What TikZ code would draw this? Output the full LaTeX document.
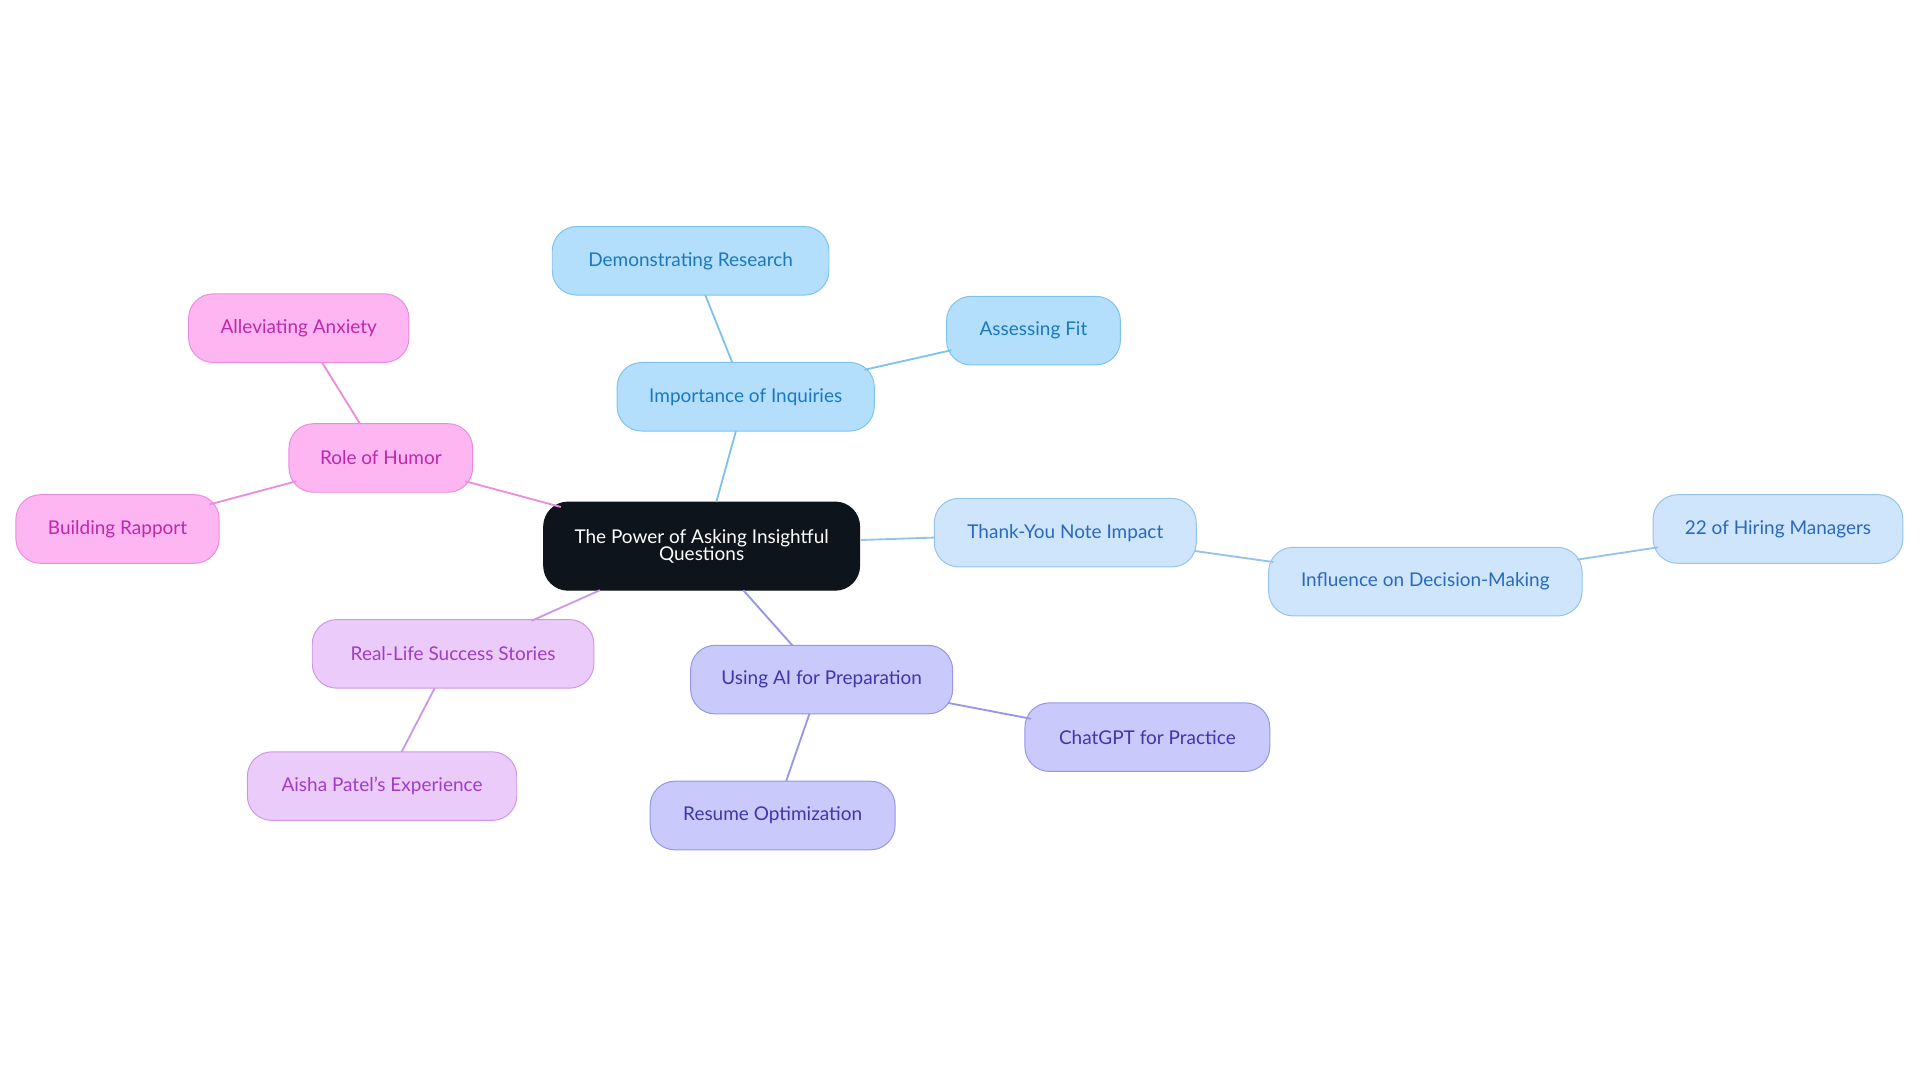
\documentclass[tikz,border=0pt]{standalone}
\usepackage{fontspec}
\setmainfont{Lato}
\definecolor{bF}{RGB}{179,223,253}\definecolor{bD}{RGB}{125,195,235}\definecolor{bT}{RGB}{27,120,190}
\definecolor{lF}{RGB}{207,229,252}\definecolor{lD}{RGB}{150,195,235}\definecolor{lT}{RGB}{40,105,190}
\definecolor{pF}{RGB}{201,201,252}\definecolor{pD}{RGB}{150,150,230}\definecolor{pT}{RGB}{60,55,170}
\definecolor{vF}{RGB}{235,203,250}\definecolor{vD}{RGB}{205,150,235}\definecolor{vT}{RGB}{160,60,200}
\definecolor{kF}{RGB}{253,182,242}\definecolor{kD}{RGB}{235,140,220}\definecolor{kT}{RGB}{190,40,170}
\definecolor{rootc}{RGB}{13,20,28}
\begin{document}
\begin{tikzpicture}[x=1pt,y=-1pt,
 base/.style={rounded corners=20pt,minimum height=56pt,draw,line width=0.8pt,font=\fontsize{15.5}{17}\selectfont,inner sep=0pt},
 blue/.style={base,fill=bF,draw=bD,text=bT},
 lblue/.style={base,fill=lF,draw=lD,text=lT},
 purp/.style={base,fill=pF,draw=pD,text=pT},
 lil/.style={base,fill=vF,draw=vD,text=vT},
 pink/.style={base,fill=kF,draw=kD,text=kT},
 eb/.style={draw=bD,line width=1.5pt},
 elb/.style={draw=lD,line width=1.5pt},
 ep/.style={draw=pD,line width=1.5pt},
 el/.style={draw=vD,line width=1.5pt},
 epk/.style={draw=kD,line width=1.5pt}]
\useasboundingbox (0,0) rectangle (1568,884);
\node[base,fill=rootc,draw=rootc,text=white,minimum width=258pt,minimum height=72pt,align=center] (root) at (573,446) {The Power of Asking Insightful\\[-3pt]Questions};
\node[blue,minimum width=210pt] (imp) at (609,324) {Importance of Inquiries};
\node[blue,minimum width=226pt] (dem) at (564,213) {Demonstrating Research};
\node[blue,minimum width=142pt] (fit) at (844,270) {Assessing Fit};
\node[lblue,minimum width=214pt] (thx) at (870,435) {Thank-You Note Impact};
\node[lblue,minimum width=256pt] (inf) at (1164,475) {Influence on Decision-Making};
\node[lblue,minimum width=204pt] (hm) at (1452,432) {22 of Hiring Managers};
\node[purp,minimum width=214pt] (ai) at (671,555) {Using AI for Preparation};
\node[purp,minimum width=200pt] (gpt) at (937,602) {ChatGPT for Practice};
\node[purp,minimum width=200pt] (res) at (631,666) {Resume Optimization};
\node[lil,minimum width=230pt] (rl) at (370,534) {Real-Life Success Stories};
\node[lil,minimum width=220pt] (ap) at (312,642) {Aisha Patel's Experience};
\node[pink,minimum width=150pt] (hu) at (311,374) {Role of Humor};
\node[pink,minimum width=180pt] (aa) at (244,268) {Alleviating Anxiety};
\node[pink,minimum width=166pt] (br) at (96,432) {Building Rapport};
\draw[eb] (585,410) -- (601,352);
\draw[eb] (598,296) -- (576,241);
\draw[eb] (706,302) -- (777,286);
\draw[elb] (703,441) -- (763,439);
\draw[elb] (976,450) -- (1040,459);
\draw[elb] (1288,457) -- (1354,447);
\draw[ep] (607,482) -- (647,527);
\draw[ep] (774,574) -- (842,587);
\draw[ep] (661,583) -- (642,638);
\draw[el] (490,482) -- (434,507);
\draw[el] (355,562) -- (328,614);
\draw[epk] (458,414) -- (380,393);
\draw[epk] (294,346) -- (263,296);
\draw[epk] (242,393) -- (171,412);
\end{tikzpicture}
\end{document}
